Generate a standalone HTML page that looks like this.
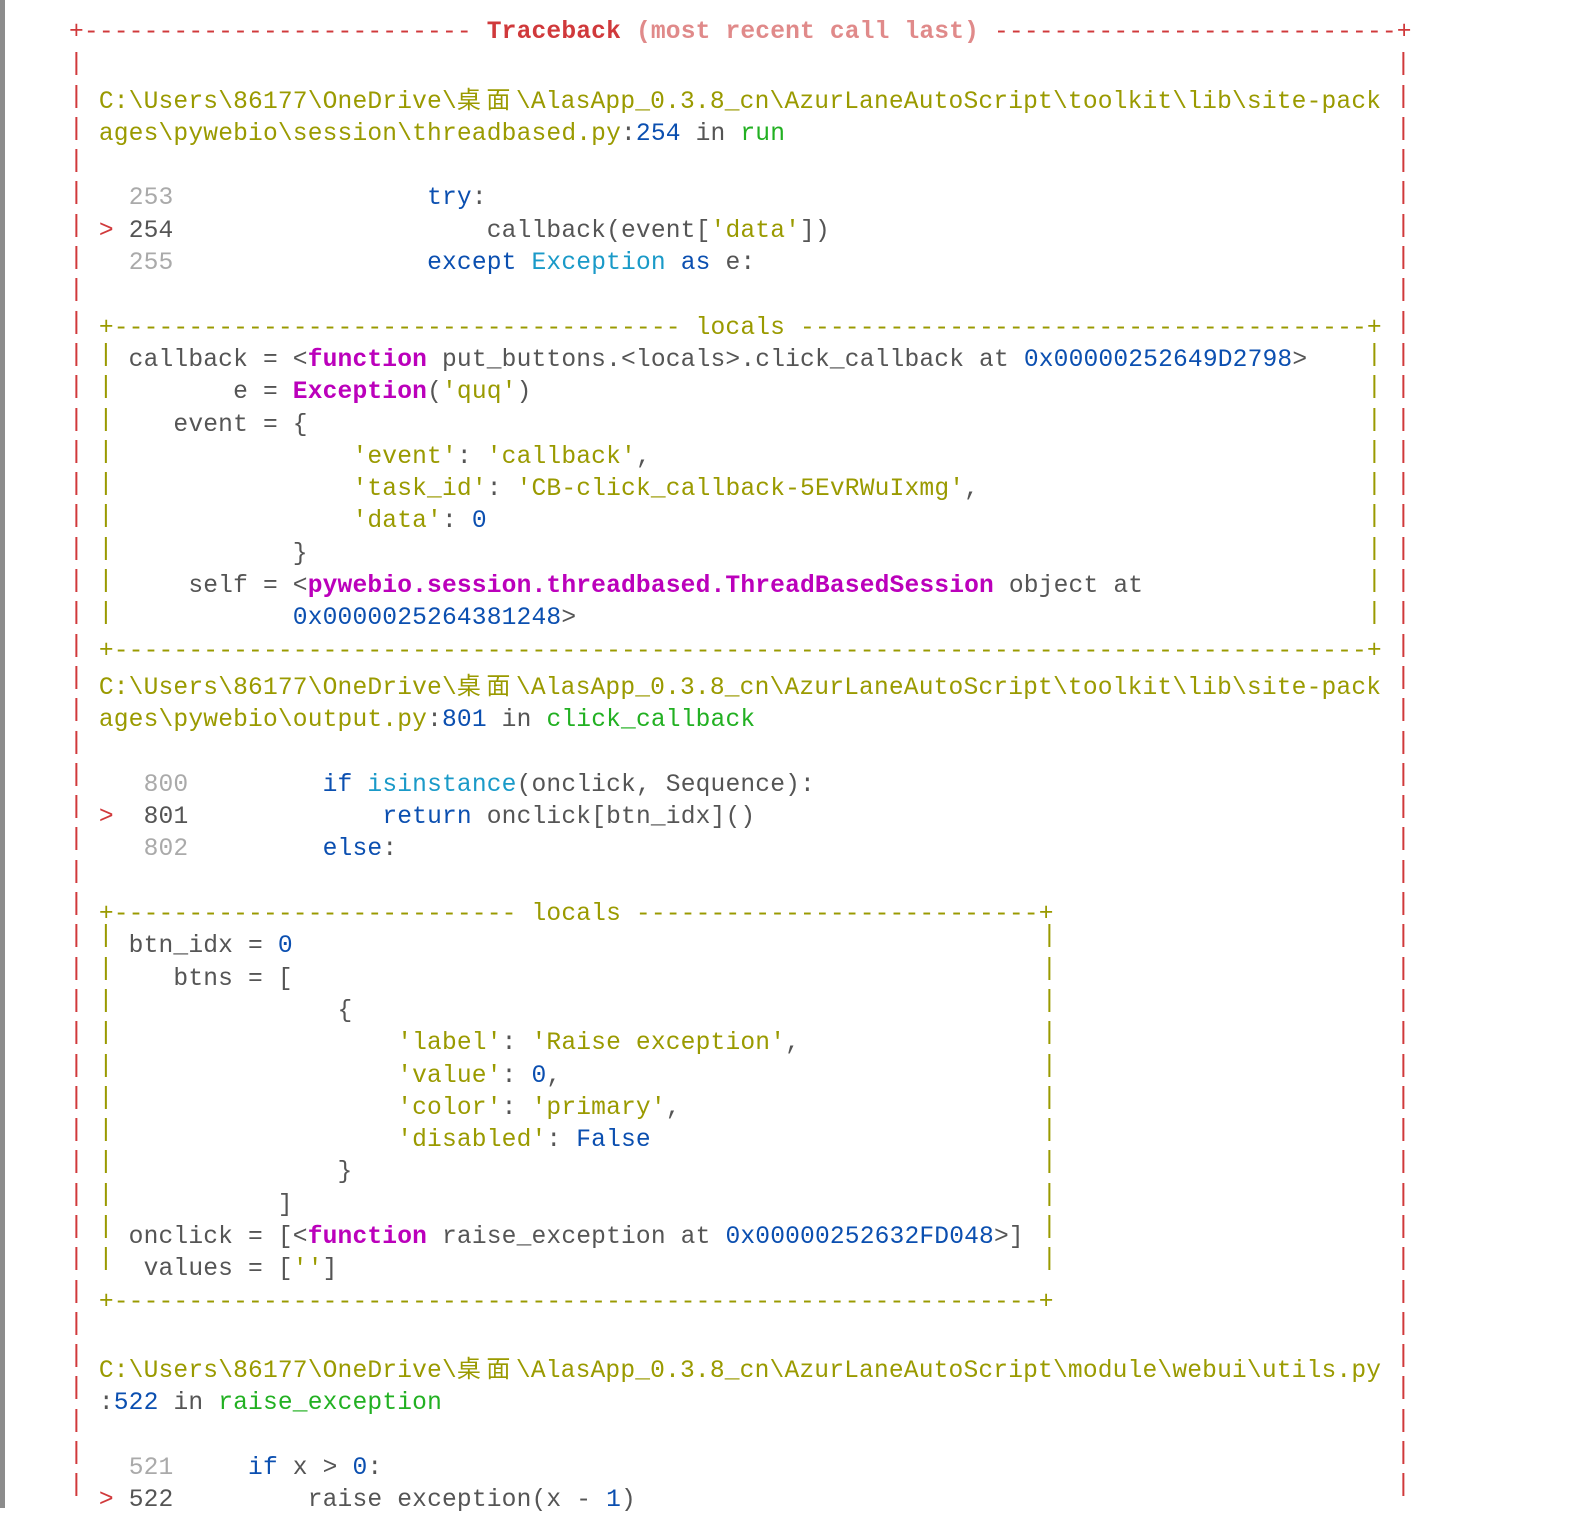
<!DOCTYPE html>
<html><head><meta charset="utf-8"><style>
html,body{margin:0;padding:0;background:#fff;width:1583px;height:1508px;overflow:hidden;}
.bar{position:absolute;left:0;top:0;width:5px;height:1508px;background:#8c8c8c;}
pre{position:absolute;top:17px;margin:0;font-family:"Liberation Mono","Noto Sans CJK SC",monospace;font-size:24.6px;letter-spacing:0.16px;line-height:32.3px;color:#555;white-space:pre;}
.w{display:inline-block;width:29.5px;letter-spacing:0;font-family:"Noto Sans CJK SC",sans-serif;font-size:24px;}
.r{color:#d0393b}.rt{color:#d0393b;font-weight:bold}.rl{color:#e08a8a;font-weight:bold}
.o{color:#9a9a00}.b{color:#0b4fb0}.gr{color:#22b022}.c{color:#1a9ac8}.m{color:#bb00bb;font-weight:bold}
.n{color:#aaa}.k{color:#555}
</style></head><body>
<div class="bar"></div>
<pre style="left:69px"><span class="r">+--------------------------</span> <span class="rt">Traceback</span> <span class="rl">(most recent call last)</span> <span class="r">---------------------------+</span>

  <span class="o">C:\Users\86177\OneDrive\<span class="w">桌</span><span class="w">面</span>\AlasApp_0.3.8_cn\AzurLaneAutoScript\toolkit\lib\site-pack</span>
  <span class="o">ages\pywebio\session\threadbased.py</span>:<span class="b">254</span> in <span class="gr">run</span>

    <span class="n">253</span>                 <span class="b">try</span>:
  <span class="r">&gt;</span> <span class="k">254</span>                     callback(event[<span class="o">'data'</span>])
    <span class="n">255</span>                 <span class="b">except</span> <span class="c">Exception</span> <span class="b">as</span> e:

  <span class="o">+-------------------------------------- locals --------------------------------------+</span>
    callback = &lt;<span class="m">function</span> put_buttons.&lt;locals&gt;.click_callback at <span class="b">0x00000252649D2798</span>&gt;
           e = <span class="m">Exception</span>(<span class="o">'quq'</span>)
       event = {
                   <span class="o">'event'</span>: <span class="o">'callback'</span>,
                   <span class="o">'task_id'</span>: <span class="o">'CB-click_callback-5EvRWuIxmg'</span>,
                   <span class="o">'data'</span>: <span class="b">0</span>
               }
        self = &lt;<span class="m">pywebio.session.threadbased.ThreadBasedSession</span> object at
               <span class="b">0x0000025264381248</span>&gt;
  <span class="o">+------------------------------------------------------------------------------------+</span>
  <span class="o">C:\Users\86177\OneDrive\<span class="w">桌</span><span class="w">面</span>\AlasApp_0.3.8_cn\AzurLaneAutoScript\toolkit\lib\site-pack</span>
  <span class="o">ages\pywebio\output.py</span>:<span class="b">801</span> in <span class="gr">click_callback</span>

     <span class="n">800</span>         <span class="b">if</span> <span class="c">isinstance</span>(onclick, Sequence):
  <span class="r">&gt;</span>  <span class="k">801</span>             <span class="b">return</span> onclick[btn_idx]()
     <span class="n">802</span>         <span class="b">else</span>:

  <span class="o">+--------------------------- locals ---------------------------+</span>
    btn_idx = <span class="b">0</span>
       btns = [
                  {
                      <span class="o">'label'</span>: <span class="o">'Raise exception'</span>,
                      <span class="o">'value'</span>: <span class="b">0</span>,
                      <span class="o">'color'</span>: <span class="o">'primary'</span>,
                      <span class="o">'disabled'</span>: <span class="b">False</span>
                  }
              ]
    onclick = [&lt;<span class="m">function</span> raise_exception at <span class="b">0x00000252632FD048</span>&gt;]
     values = [<span class="o">''</span>]
  <span class="o">+--------------------------------------------------------------+</span>

  <span class="o">C:\Users\86177\OneDrive\<span class="w">桌</span><span class="w">面</span>\AlasApp_0.3.8_cn\AzurLaneAutoScript\module\webui\utils.py</span>
  :<span class="b">522</span> in <span class="gr">raise_exception</span>

    <span class="n">521</span>     <span class="b">if</span> x &gt; <span class="b">0</span>:
  <span class="r">&gt;</span> <span class="k">522</span>         raise exception(x - <span class="b">1</span>)
</pre>
<pre class="r" style="left:69px">

|
|
|
|
|
|
|
|
|
|
|
|
|
|
|
|
|
|
|
|
|
|
|
|
|
|
|
|
|
|
|
|
|
|
|
|
|
|
|
|
|
|
|
|
|
</pre>
<pre class="r" style="left:1396px">

|
|
|
|
|
|
|
|
|
|
|
|
|
|
|
|
|
|
|
|
|
|
|
|
|
|
|
|
|
|
|
|
|
|
|
|
|
|
|
|
|
|
|
|
|
</pre>
<pre class="o" style="left:98.5px">










|
|
|
|
|
|
|
|
|









|
|
|
|
|
|
|
|
|
|
|
</pre>
<pre class="o" style="left:1367px">










|
|
|
|
|
|
|
|
|
</pre>
<pre class="o" style="left:1042px">




























|
|
|
|
|
|
|
|
|
|
|
</pre>
</body></html>
